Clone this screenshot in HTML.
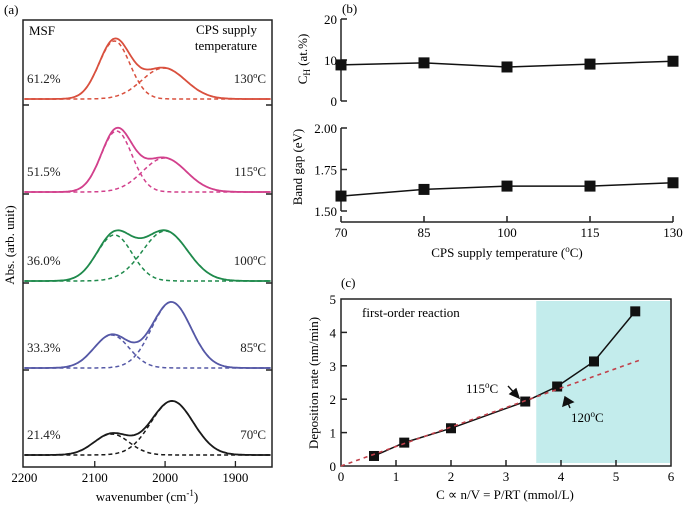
<!DOCTYPE html>
<html><head><meta charset="utf-8"><style>
html,body{margin:0;padding:0;background:#fff;}
svg{display:block;font-family:"Liberation Serif",serif;}
</style></head><body>
<svg id="fig" width="685" height="506" viewBox="0 0 685 506" xmlns="http://www.w3.org/2000/svg">
<g id="pa"></g>
<g id="pb"></g>
<g id="pc"></g>
</svg>
<script>
// Panel (a) data: two gaussian components per spectrum
const aTemps = ['130ºC','115ºC','100ºC','85ºC','70ºC'];
const aPercents = ['61.2%','51.5%','36.0%','33.3%','21.4%'];
const aColors = ['#d9503e','#d2408c','#1f8a4c','#5558a6','#1a1a1a'];
const aC1 = [2072, 2069, 2072, 2076, 2076];
const aA1 = [58, 61, 46, 33, 21];
const aS1 = [22, 22, 25, 25, 25];
const aC2 = [2002, 2001, 2000, 1991, 1990];
const aA2 = [31, 34, 50, 66, 54];
const aS2 = [31, 31, 32, 28, 30];
const aTicks = [2200, 2100, 2000, 1900];

// Panel (b) data
const bX = [70, 85, 100, 115, 130];
const bCH = [8.8, 9.3, 8.3, 9.0, 9.7];
const bGap = [1.59, 1.63, 1.65, 1.65, 1.67];
const bTopTicks = [0, 10, 20];
const bBotTicks = ['1.50', '1.75', '2.00'];

// Panel (c) data
const cX = [0.6, 1.15, 2.0, 3.35, 3.93, 4.6, 5.35];
const cY = [0.3, 0.7, 1.13, 1.93, 2.38, 3.13, 4.63];
const cFitX = [0, 5.45];
const cFitY = [0, 3.18];
const cXTicks = [0, 1, 2, 3, 4, 5, 6];
const cYTicks = [0, 1, 2, 3, 4, 5];

const NS = 'http://www.w3.org/2000/svg';
function mk(parent, tag, attrs, txt){
  const e = document.createElementNS(NS, tag);
  for (const k in attrs) e.setAttribute(k, attrs[k]);
  if (txt !== undefined) e.textContent = txt;
  parent.appendChild(e);
  return e;
}

// ---------- Panel A ----------
const pa = document.getElementById('pa');
const aL = 23, aR = 272, aT = 20, aB = 467;
const wx = w => aL + (2202 - w) / (2202 - 1848) * (aR - aL);
const bases = [99, 192, 281, 368, 455];
const seps = [105, 194, 283, 370];
const t1 = mk(pa, 'text', {x: 4, y: 14, 'font-size': 13}, '(a)');


const fr = mk(pa, 'rect', {x: aL, y: aT, width: aR - aL, height: aB - aT, fill: 'none', stroke: '#222', 'stroke-width': 1.5});


seps.forEach(y => {
  const s1 = mk(pa, 'line', {x1: aL, x2: aL + 6, y1: y, y2: y, stroke: '#222', 'stroke-width': 1.5});
  
  
  const s2 = mk(pa, 'line', {x1: aR - 6, x2: aR, y1: y, y2: y, stroke: '#222', 'stroke-width': 1.5});
  
  
});
const g = (w, c, a, s) => a * Math.exp(-0.5 * ((w - c) / s) ** 2);
aTemps.forEach((tp, i) => {
  const b = bases[i];
  let p1 = '', p2 = '', pt = '';
  for (let w = 2200; w >= 1850; w -= 2) {
    const v1 = g(w, aC1[i], aA1[i], aS1[i]), v2 = g(w, aC2[i], aA2[i], aS2[i]);
    const x = wx(w).toFixed(1);
    const cmd = w === 2200 ? 'M' : 'L';
    p1 += cmd + x + ',' + (b - v1).toFixed(1);
    p2 += cmd + x + ',' + (b - v2).toFixed(1);
    pt += cmd + x + ',' + (b - v1 - v2).toFixed(1);
  }
  const d1 = mk(pa, 'path', {d: p1, fill: 'none', stroke: aColors[i], 'stroke-width': 1.5, 'stroke-dasharray': '4,3'});
  
  
  const d2 = mk(pa, 'path', {d: p2, fill: 'none', stroke: aColors[i], 'stroke-width': 1.5, 'stroke-dasharray': '4,3'});
  
  
  const dt = mk(pa, 'path', {d: pt, fill: 'none', stroke: aColors[i], 'stroke-width': 1.8});
  
  
  const lp = mk(pa, 'text', {x: 27, y: b - 16, 'font-size': 13, fill: '#222'}, aPercents[i]);
  
  
  const lt = mk(pa, 'text', {x: 266, y: b - 16, 'font-size': 13, fill: '#222', 'text-anchor': 'end'}, tp);
  
  
});
const msf = mk(pa, 'text', {x: 29, y: 35, 'font-size': 13}, 'MSF');


const cps1 = mk(pa, 'text', {x: 257, y: 34, 'font-size': 13, 'text-anchor': 'end'}, 'CPS supply');


const cps2 = mk(pa, 'text', {x: 257, y: 50, 'font-size': 13, 'text-anchor': 'end'}, 'temperature');


aTicks.forEach(t => {
  const x = wx(t);
  if (t !== 2200) {
    const tk = mk(pa, 'line', {x1: x, x2: x, y1: aB, y2: aB - 6, stroke: '#222', 'stroke-width': 1.3});
    
    
  }
  const tl = mk(pa, 'text', {x: x, y: 482, 'font-size': 13, 'text-anchor': 'middle'}, String(t));
  
  
});
const ax = mk(pa, 'text', {x: 147, y: 501, 'font-size': 13, 'text-anchor': 'middle'});


ax.innerHTML = 'wavenumber (cm<tspan dy="-5" font-size="9">-1</tspan><tspan dy="5">)</tspan>';
const ay = mk(pa, 'text', {x: 0, y: 0, 'font-size': 13, 'text-anchor': 'middle', transform: 'translate(14,245) rotate(-90)'}, 'Abs. (arb. unit)');



// ---------- Panel B ----------
const pb = document.getElementById('pb');
const bx = v => 341 + (v - 70) / 60 * (673 - 341);
const byTop = v => 101 - v / 20 * 82;
const byBot = v => 211 - (v - 1.5) / 0.5 * 83;
const lb = mk(pb, 'text', {x: 342, y: 13, 'font-size': 13}, '(b)');


function vaxis(y1, y2, name) {
  const l = mk(pb, 'line', {x1: 341, x2: 341, y1: y1, y2: y2, stroke: '#222', 'stroke-width': 1.5});
  
  
}
vaxis(19, 101, 'ch-y-axis');
vaxis(128, 211, 'bandgap-y-axis');
bTopTicks.forEach(t => {
  const y = byTop(t);
  const tk = mk(pb, 'line', {x1: 341, x2: 347, y1: y, y2: y, stroke: '#222', 'stroke-width': 1.5});
  
  
  const tl = mk(pb, 'text', {x: 337, y: y + 5, 'font-size': 13, 'text-anchor': 'end'}, String(t));
  
  
});
bBotTicks.forEach(t => {
  const y = byBot(parseFloat(t));
  const tk = mk(pb, 'line', {x1: 341, x2: 347, y1: y, y2: y, stroke: '#222', 'stroke-width': 1.5});
  
  
  const tl = mk(pb, 'text', {x: 337, y: y + 5, 'font-size': 13, 'text-anchor': 'end'}, t);
  
  
});
const xa = mk(pb, 'line', {x1: 341, x2: 673, y1: 222, y2: 222, stroke: '#222', 'stroke-width': 1.5});


bX.forEach(v => {
  const x = bx(v);
  const tk = mk(pb, 'line', {x1: x, x2: x, y1: 222, y2: 216, stroke: '#222', 'stroke-width': 1.5});
  
  
  const tl = mk(pb, 'text', {x: x, y: 237, 'font-size': 13, 'text-anchor': 'middle'}, String(v));
  
  
});
function series(parent, xs, ys, fx, fy, name, sz) {
  const pts = xs.map((v, i) => fx(v).toFixed(1) + ',' + fy(ys[i]).toFixed(1)).join(' ');
  const pl = mk(parent, 'polyline', {points: pts, fill: 'none', stroke: '#111', 'stroke-width': 1.5});
  
  
  xs.forEach((v, i) => {
    const r = mk(parent, 'rect', {x: fx(v) - sz / 2, y: fy(ys[i]) - sz / 2, width: sz, height: sz, fill: '#111'});
    
    
  });
}
series(pb, bX, bCH, bx, byTop, 'ch', 11);
series(pb, bX, bGap, bx, byBot, 'bandgap', 11);
const chl = mk(pb, 'text', {x: 0, y: 0, 'font-size': 13, 'text-anchor': 'middle', transform: 'translate(307,59) rotate(-90)'});


chl.innerHTML = 'C<tspan dy="3" font-size="9">H</tspan><tspan dy="-3"> (at.%)</tspan>';
const bgl = mk(pb, 'text', {x: 0, y: 0, 'font-size': 13, 'text-anchor': 'middle', transform: 'translate(302,167) rotate(-90)'}, 'Band gap (eV)');


const bxt = mk(pb, 'text', {x: 507, y: 257, 'font-size': 13, 'text-anchor': 'middle'});


bxt.innerHTML = 'CPS supply temperature (<tspan dy="-5" font-size="9">o</tspan><tspan dy="5">C)</tspan>';

// ---------- Panel C ----------
const pc = document.getElementById('pc');
const cxs = v => 341 + v / 6 * (671 - 341);
const cys = v => 466 - v / 5 * (466 - 299);
const lc = mk(pc, 'text', {x: 341, y: 287, 'font-size': 13}, '(c)');


const sh = mk(pc, 'rect', {x: cxs(3.55), y: 301, width: 670 - cxs(3.55), height: 162, fill: '#c3ecec'});


const cf = mk(pc, 'rect', {x: 341, y: 299, width: 330, height: 167, fill: 'none', stroke: '#222', 'stroke-width': 1.5});


cXTicks.forEach(t => {
  const x = cxs(t);
  if (t > 0 && t < 6) {
    const tk = mk(pc, 'line', {x1: x, x2: x, y1: 466, y2: 460, stroke: '#222', 'stroke-width': 1.5});
    
    
  }
  const tl = mk(pc, 'text', {x: x, y: 481, 'font-size': 13, 'text-anchor': 'middle'}, String(t));
  
  
});
cYTicks.forEach(t => {
  const y = cys(t);
  if (t > 0 && t < 5) {
    const tk = mk(pc, 'line', {x1: 341, x2: 347, y1: y, y2: y, stroke: '#222', 'stroke-width': 1.5});
    
    
  }
  const tl = mk(pc, 'text', {x: 336, y: y + 5, 'font-size': 13, 'text-anchor': 'end'}, String(t));
  
  
});
series(pc, cX, cY, cxs, cys, 'deposition', 10);
const fit = mk(pc, 'line', {x1: cxs(cFitX[0]), y1: cys(cFitY[0]), x2: cxs(cFitX[1]), y2: cys(cFitY[1]), stroke: '#c0404a', 'stroke-width': 1.6, 'stroke-dasharray': '4,4'});


const fo = mk(pc, 'text', {x: 362, y: 317, 'font-size': 13}, 'first-order reaction');


const l115 = mk(pc, 'text', {x: 466, y: 393, 'font-size': 13});


l115.innerHTML = '115<tspan dy="-5" font-size="9">o</tspan><tspan dy="5">C</tspan>';
const l120 = mk(pc, 'text', {x: 571, y: 422, 'font-size': 13});


l120.innerHTML = '120<tspan dy="-5" font-size="9">o</tspan><tspan dy="5">C</tspan>';
const ar1 = mk(pc, 'path', {d: 'M508,386 L518,397 M510,394 L519,398 L516,389 Z', fill: '#111', stroke: '#111', 'stroke-width': 1.4});


const ar2 = mk(pc, 'path', {d: 'M570,408 L566,398 M563,406 L565,397 L573,402 Z', fill: '#111', stroke: '#111', 'stroke-width': 1.4});


const cyt = mk(pc, 'text', {x: 0, y: 0, 'font-size': 13, 'text-anchor': 'middle', transform: 'translate(318,383) rotate(-90)'}, 'Deposition rate (nm/min)');


const cxt = mk(pc, 'text', {x: 505, y: 499, 'font-size': 13, 'text-anchor': 'middle'}, 'C ∝ n/V = P/RT (mmol/L)');


</script>
</body></html>
